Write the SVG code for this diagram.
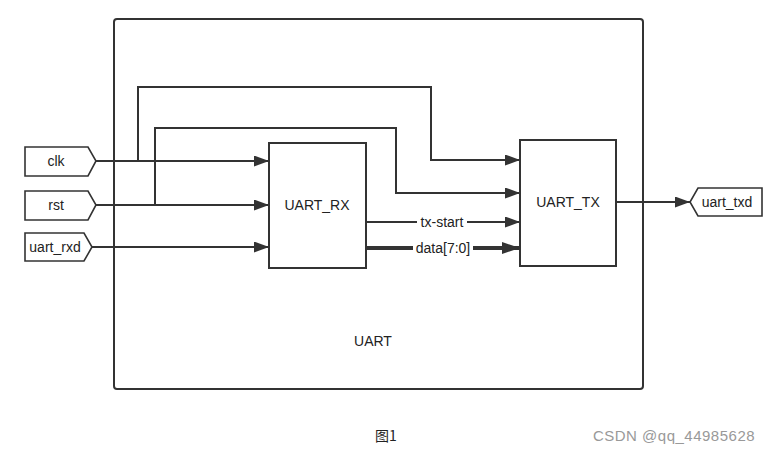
<svg xmlns="http://www.w3.org/2000/svg" width="774" height="453" viewBox="0 0 774 453">
<style>
.b{fill:#fff;stroke:#333;stroke-width:2}
.p{fill:#fff;stroke:#333;stroke-width:1.6}
.w{fill:none;stroke:#333;stroke-width:2}
.t{font-family:"Liberation Sans",Arial,sans-serif;font-size:14px;fill:#222;text-anchor:middle}
</style>
<defs>
<marker id="a" viewBox="0 0 10 10" refX="10" refY="5" markerWidth="15" markerHeight="11" markerUnits="userSpaceOnUse" orient="auto" preserveAspectRatio="none"><path d="M0,0L10,5L0,10z" fill="#333"/></marker>
<marker id="a2" viewBox="0 0 10 10" refX="10" refY="5" markerWidth="18" markerHeight="12" markerUnits="userSpaceOnUse" orient="auto" preserveAspectRatio="none"><path d="M0,0L10,5L0,10z" fill="#333"/></marker>
</defs>
<rect width="774" height="453" fill="#fff"/>
<g id="uart"><rect x="114" y="19" width="529" height="370" rx="3" class="b"/><text x="373" y="346" class="t">UART</text></g>
<g id="connectors">
<path d="M96,161H269" class="w" marker-end="url(#a)"/>
<path d="M96,205H269" class="w" marker-end="url(#a)"/>
<path d="M92,247H269" class="w" marker-end="url(#a)"/>
<path d="M138,161V87H431V160H520" class="w" marker-end="url(#a)"/>
<path d="M155,205V128H396V193H520" class="w" marker-end="url(#a)"/>
<path d="M366,222H520" class="w" marker-end="url(#a)"/>
<path d="M366,248H520" class="w" style="stroke-width:4" marker-end="url(#a2)"/>
<path d="M616,202H690" class="w" marker-end="url(#a)"/>
<rect x="417" y="214" width="50" height="15" fill="#fff"/>
<text x="442" y="227" class="t">tx-start</text>
<rect x="413" y="240" width="60" height="16" fill="#fff"/>
<text x="443" y="253" class="t">data[7:0]</text>
</g>
<g id="clk"><path class="p" d="M25,147H88L96,161L88,176H25Z"/><text x="56" y="166" class="t">clk</text></g>
<g id="rst"><path class="p" d="M25,191H88L96,205L88,220H25Z"/><text x="56" y="210" class="t">rst</text></g>
<g id="uart_rxd"><path class="p" d="M25,233H84L92,247L84,261H25Z"/><text x="55" y="252" class="t">uart_rxd</text></g>
<g id="uart_rx"><rect x="269" y="143" width="97" height="125" class="b"/><text x="317" y="210" class="t">UART_RX</text></g>
<g id="uart_tx"><rect x="520" y="140" width="96" height="126" class="b"/><text x="568" y="207" class="t">UART_TX</text></g>
<g id="uart_txd"><path class="p" d="M698,188H762V216H698L690,202Z"/><text x="727" y="207" class="t">uart_txd</text></g>
<text x="386" y="441" class="t" style="font-family:'Noto Sans CJK SC',sans-serif">图1</text>
<text x="674" y="441" class="t" style="fill:#999;font-size:15px;letter-spacing:0.5px">CSDN @qq_44985628</text>
</svg>
